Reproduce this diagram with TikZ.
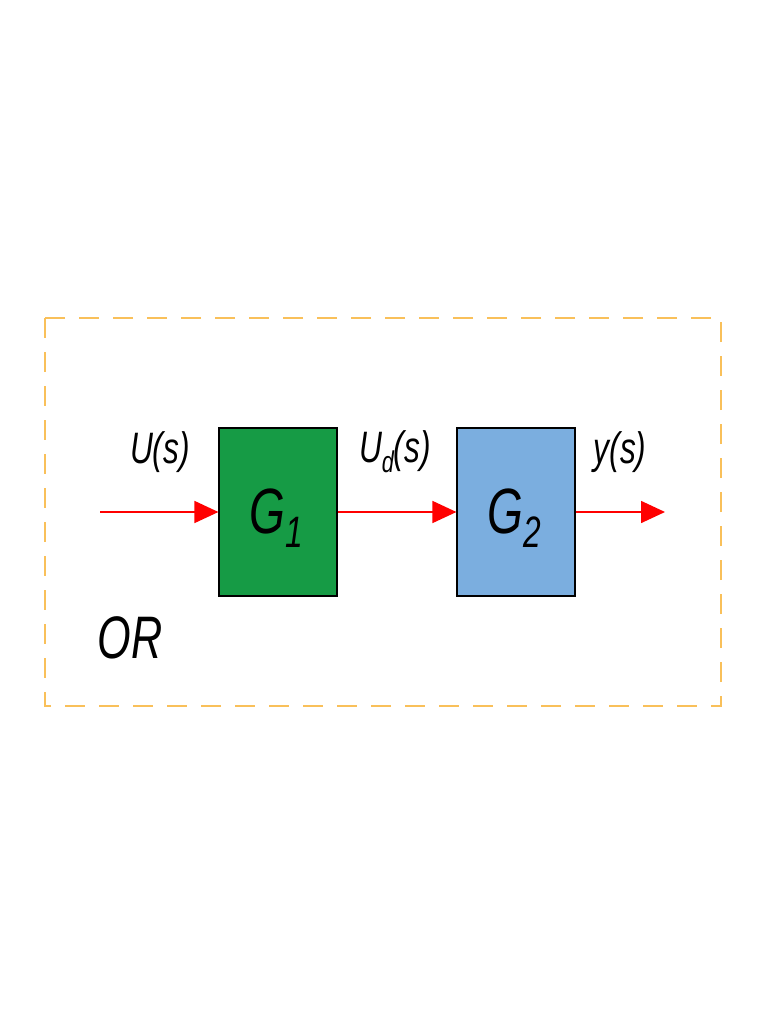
\documentclass[tikz,border=0pt]{standalone}
\usepackage{fontspec}
\setmainfont{Liberation Sans}
\usetikzlibrary{arrows.meta}
\definecolor{dashor}{HTML}{F9C05A}
\definecolor{gfill}{HTML}{169B45}
\definecolor{bfill}{HTML}{7BAEDF}
\newcommand{\nar}[2]{\scalebox{0.72}[1]{\fontsize{#1}{#1}\selectfont\itshape #2}}
\begin{document}
\begin{tikzpicture}[x=1pt,y=-1pt,
  blk/.style={draw=black,line width=1.2pt,minimum width=118pt,minimum height=168pt,inner sep=0pt},
  sig/.style={red,line width=1.6pt,-{Triangle[length=24pt,width=22pt]}},
  lbl/.style={inner sep=0pt}]
\useasboundingbox (0,0) rectangle (768,1024);
\draw[dashor,line width=1.6pt,dash pattern=on 20pt off 14pt] (45,318) rectangle (721,706);
\node[blk,fill=gfill] (g1) at (278,512) {};
\node[blk,fill=bfill] (g2) at (516,512) {};
\node[lbl] at (276,518) {\nar{64}{G}\raisebox{-14pt}{\nar{44}{1}}};
\node[lbl] at (514,518) {\nar{64}{G}\raisebox{-14pt}{\nar{44}{2}}};
\coordinate (in) at (100,512);
\coordinate (out) at (665,512);
\draw[sig] (in) -- (g1.west);
\draw[sig] (g1.east) -- (g2.west);
\draw[sig] (g2.east) -- (out);
\node[lbl] at (160,452) {\nar{44}{U(s)}};
\node[lbl] at (395,452) {\nar{44}{U}\raisebox{-10pt}{\nar{30}{d}}\nar{44}{(s)}};
\node[lbl] at (620,452) {\nar{44}{y(s)}};
\node[lbl] at (130,638) {\nar{60}{OR}};
\end{tikzpicture}
\end{document}
